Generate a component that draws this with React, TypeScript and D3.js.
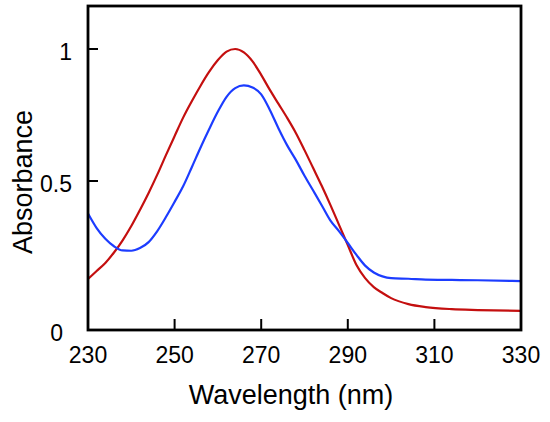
import * as d3 from "d3";
import React, { useEffect, useRef } from "react";

// wavelength in nm
const wavelengths = [230, 232, 234, 236, 238, 240, 242, 244, 246, 248, 250, 252, 254, 256, 258, 260, 262, 264, 266, 268, 270,
    272, 274, 276, 278, 280, 282, 284, 286, 288, 290, 292, 294, 296, 298, 300, 304, 308, 314, 320, 330];

const redAbs = [0.171, 0.198, 0.225, 0.26, 0.301, 0.349, 0.403, 0.46, 0.524, 0.598, 0.67, 0.741, 0.803, 0.861, 0.914, 0.958,
    0.99, 1.0, 0.987, 0.953, 0.902, 0.845, 0.792, 0.739, 0.682, 0.617, 0.549, 0.483, 0.419, 0.352, 0.285, 0.218, 0.174,
    0.144, 0.124, 0.107, 0.087, 0.077, 0.07, 0.067, 0.064];

const blueAbs = [0.391, 0.342, 0.306, 0.281, 0.267, 0.266, 0.275, 0.295, 0.332, 0.379, 0.43, 0.483, 0.553, 0.627, 0.697,
    0.763, 0.819, 0.852, 0.862, 0.854, 0.828, 0.769, 0.699, 0.635, 0.58, 0.52, 0.468, 0.418, 0.367, 0.331, 0.292, 0.252,
    0.216, 0.193, 0.18, 0.174, 0.172, 0.169, 0.168, 0.167, 0.164];

const xTicks = [230, 250, 270, 290, 310, 330];
const yTicks = [0, 0.5, 1];
const yTickLabels = ["0", "0.5", "1"];

const WIDTH = 550;
const HEIGHT = 422;
const FONT = "'Liberation Sans', Arial, sans-serif";

export default function App() {
    const svgRef = useRef<SVGSVGElement>(null);

    useEffect(() => {
        const svg = d3.select(svgRef.current);
        svg.selectAll("*").remove();

        const left = 88, right = 521, top = 6, bottom = 330;

        const xScale = d3.scaleLinear().domain([230, 330]).range([left, right]);
        // the original axis is not evenly spaced, so map the ticks piecewise
        const yScale = d3.scaleLinear().domain([0, 0.5, 1]).range([bottom, 181, 49]);

        const line = d3.line<number>()
            .x((d, i) => xScale(wavelengths[i]))
            .y(d => yScale(d))
            .curve(d3.curveMonotoneX);

        /*
        curves
         */
        svg.append("path")
            .attr("d", line(redAbs))
            .attr("fill", "none")
            .attr("stroke", "#c40f0f")
            .attr("stroke-width", 2.2);

        svg.append("path")
            .attr("d", line(blueAbs))
            .attr("fill", "none")
            .attr("stroke", "#1c3cff")
            .attr("stroke-width", 2.2);

        /*
        frame
         */
        svg.append("rect")
            .attr("x", left)
            .attr("y", top)
            .attr("width", right - left)
            .attr("height", bottom - top)
            .attr("fill", "none")
            .attr("stroke", "#000")
            .attr("stroke-width", 2.8);

        /*
        x ticks, pointing inward
         */
        svg.selectAll(".x-tick")
            .data(xTicks.slice(1, -1))
            .enter()
            .append("line")
            .attr("class", "x-tick")
            .attr("x1", d => xScale(d))
            .attr("x2", d => xScale(d))
            .attr("y1", bottom)
            .attr("y2", bottom - 11)
            .attr("stroke", "#000")
            .attr("stroke-width", 2);

        svg.selectAll(".x-label")
            .data(xTicks)
            .enter()
            .append("text")
            .attr("class", "x-label")
            .attr("x", d => xScale(d))
            .attr("y", 363)
            .attr("text-anchor", "middle")
            .style("font-family", FONT)
            .style("font-size", "23px")
            .text(d => String(d));

        /*
        y ticks
         */
        svg.selectAll(".y-tick")
            .data(yTicks.slice(1))
            .enter()
            .append("line")
            .attr("class", "y-tick")
            .attr("x1", left)
            .attr("x2", left + 10)
            .attr("y1", d => yScale(d))
            .attr("y2", d => yScale(d))
            .attr("stroke", "#000")
            .attr("stroke-width", 2);

        svg.selectAll(".y-label")
            .data(yTicks)
            .enter()
            .append("text")
            .attr("class", "y-label")
            .attr("x", (d, i) => i === 0 ? 63 : 72)
            .attr("y", d => yScale(d) + 11)
            .attr("text-anchor", "end")
            .style("font-family", FONT)
            .style("font-size", "23px")
            .text((d, i) => yTickLabels[i]);

        /*
        axis titles
         */
        svg.append("text")
            .attr("x", 291)
            .attr("y", 404)
            .attr("text-anchor", "middle")
            .style("font-family", FONT)
            .style("font-size", "27px")
            .text("Wavelength (nm)");

        svg.append("text")
            .attr("transform", "translate(32,182) rotate(-90)")
            .attr("text-anchor", "middle")
            .style("font-family", FONT)
            .style("font-size", "27px")
            .text("Absorbance");
    }, []);

    return (
        <svg ref={svgRef} width={WIDTH} height={HEIGHT}
             style={{ position: "absolute", left: 0, top: 0, background: "#fff" }} />
    );
}
